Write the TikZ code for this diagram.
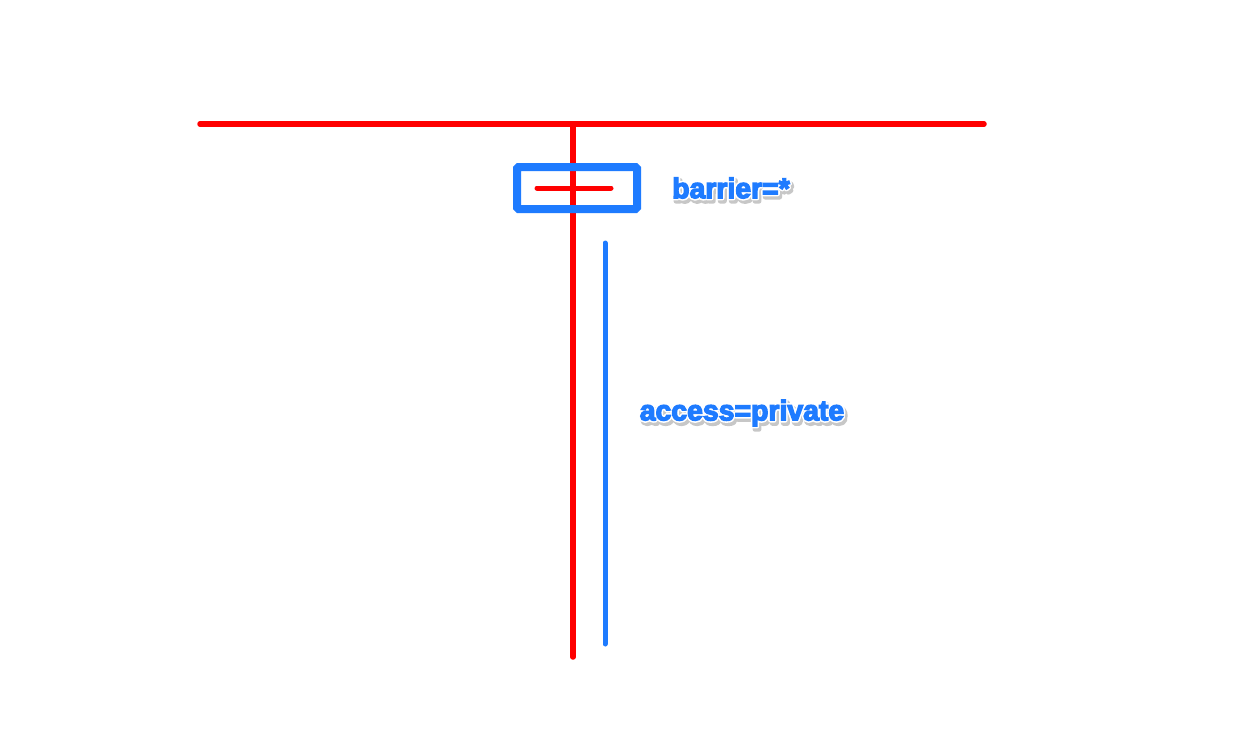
\documentclass[tikz,border=0pt]{standalone}
\usepackage{fontspec}
\setmainfont{Liberation Sans}
\definecolor{road}{RGB}{255,0,0}
\definecolor{tagblue}{RGB}{30,123,255}
\newcommand{\heavytext}[1]{\special{pdf:literal direct 2 Tr 1.3 w 0.118 0.482 1 RG}#1\special{pdf:literal direct 0 Tr}}
\newcommand{\shadowtext}[1]{\special{pdf:literal direct 2 Tr 5 w 0.78 0.78 0.78 RG 1 j}#1\special{pdf:literal direct 0 Tr}}
\newcommand{\halotext}[1]{\special{pdf:literal direct 2 Tr 4.5 w 1 1 1 RG 1 j}#1\special{pdf:literal direct 0 Tr}}
\tikzset{
  roadline/.style={draw=road,line width=5.5bp,line cap=round},
  accessline/.style={draw=tagblue,line width=5bp,line cap=round},
  barrierbox/.style={draw=tagblue,line width=8bp,rounded corners=1.5bp},
  tagtext/.style={font=\fontsize{28.5}{30}\selectfont\bfseries,inner sep=0pt,text=tagblue},
  shadowstyle/.style={font=\fontsize{28.5}{30}\selectfont\bfseries,inner sep=0pt,text={rgb,255:red,200;green,200;blue,200}},
  halostyle/.style={font=\fontsize{28.5}{30}\selectfont\bfseries,inner sep=0pt,text=white}
}
\begin{document}
\begin{tikzpicture}[x=1bp,y=-1bp]
\useasboundingbox (0,0) rectangle (1248,746);
\fill[white] (0,0) rectangle (1248,746);
% main road
\coordinate (mainW) at (200,124);
\coordinate (mainE) at (984,124);
\coordinate (junction) at (573,124);
\coordinate (sideS) at (573,657);
\draw[roadline] (mainW) -- (mainE);
\draw[roadline] (junction) -- (sideS);
% barrier
\coordinate (barW) at (537,188);
\coordinate (barE) at (611,188);
\draw[roadline,line width=5bp] (barW) -- (barE);
\coordinate (boxNW) at (517,167);
\coordinate (boxSE) at (637,209);
\draw[barrierbox] (boxNW) rectangle (boxSE);
% access line
\coordinate (accN) at (605,243);
\coordinate (accS) at (605,644);
\draw[accessline] (accN) -- (accS);
% labels: shadow, white halo, blue text
\node[shadowstyle] (barriershadow) at (733,191) {\shadowtext{barrier=*}};
\node[halostyle] (barrierhalo) at (731,188) {\halotext{barrier=*}};
\node[tagtext] (barrierlabel) at (731,188) {\heavytext{barrier=*}};
\node[shadowstyle] (accessshadow) at (744,416) {\shadowtext{access=private}};
\node[halostyle] (accesshalo) at (742,413) {\halotext{access=private}};
\node[tagtext] (accesslabel) at (742,413) {\heavytext{access=private}};
\end{tikzpicture}
\end{document}
